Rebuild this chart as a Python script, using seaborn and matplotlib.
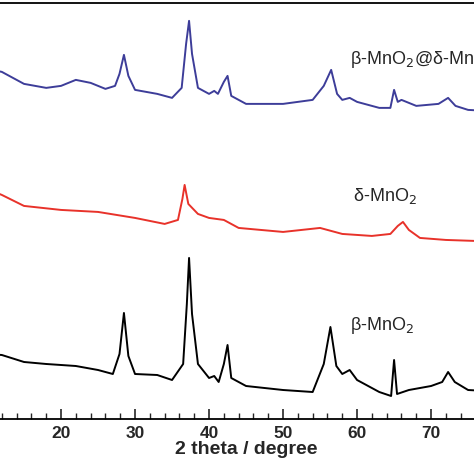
import matplotlib
matplotlib.use("Agg")
import matplotlib.pyplot as plt
import seaborn as sns
import pandas as pd
from matplotlib.ticker import MultipleLocator

sns.set_theme(style="white")
plt.rcParams['font.family'] = ['Liberation Sans', 'DejaVu Sans']

# 2theta (degree) and intensity (a.u., offset stacked)
beta_x = [10, 12, 15, 18, 22, 25, 27, 27.9, 28.5, 29.1, 30, 33, 35, 36.5, 37.0, 37.3, 37.7, 38.5, 40, 40.7, 41.3, 42.0, 42.5, 43.0, 45, 50, 54, 55.5, 56.4, 57.2, 58, 59, 60, 63, 64.6, 65.0, 65.4, 67, 70, 71.5, 72.3, 73.2, 75, 80]
beta_y = [120, 119, 112, 110, 108, 104, 100, 120, 161, 118, 100, 99, 94, 110, 170, 216, 160, 110, 96, 98, 92, 110, 129, 96, 88, 84, 82, 110, 147, 108, 100, 104, 94, 82, 78, 114, 80, 84, 88, 92, 102, 92, 84, 82]
delta_x = [10, 12, 15, 20, 25, 30, 34, 35.8, 36.4, 36.7, 37.2, 38.5, 40, 42, 44, 50, 55, 58, 62, 64.5, 65.5, 66.2, 67, 68.5, 72, 80]
delta_y = [285, 279, 268, 264, 262, 256, 250, 254, 275, 289, 270, 260, 256, 254, 246, 242, 246, 240, 238, 240, 248, 252, 244, 236, 234, 232]
comp_x = [10, 12, 15, 18, 20, 22, 24, 26, 27.3, 27.9, 28.5, 29.1, 30, 33, 35, 36.3, 36.9, 37.3, 37.7, 38.5, 40, 40.7, 41.2, 42.0, 42.5, 43.0, 45, 50, 54, 55.5, 56.5, 57.3, 58, 59, 60, 63, 64.5, 65.0, 65.5, 66, 68, 71, 72.3, 73.3, 75, 80]
comp_y = [405, 402, 390, 386, 388, 394, 391, 385, 388, 400, 419, 398, 384, 380, 376, 386, 430, 453, 420, 386, 380, 383, 380, 392, 398, 378, 370, 370, 374, 388, 404, 380, 374, 376, 372, 366, 366, 384, 372, 374, 368, 370, 376, 368, 364, 362]

fig = plt.figure(figsize=(4.74, 4.74), dpi=100)
ax = fig.add_axes([-0.0274, 0.116, 1.093, 0.878])
kw = dict(sort=False, estimator=None, linewidth=1.4, ax=ax)
sns.lineplot(data=pd.DataFrame({"x": beta_x, "y": beta_y}), x="x", y="y", color="black", **kw)
sns.lineplot(data=pd.DataFrame({"x": delta_x, "y": delta_y}), x="x", y="y", color="#e8322a", **kw)
sns.lineplot(data=pd.DataFrame({"x": comp_x, "y": comp_y}), x="x", y="y", color="#3d3d99", **kw)

ax.set_xlim(10, 80)
ax.set_ylim(55, 471)
ax.set_yticks([])
ax.xaxis.set_major_locator(MultipleLocator(10))
ax.xaxis.set_minor_locator(MultipleLocator(2))
ax.tick_params(axis='x', which='major', direction='in', length=7, width=1.2, bottom=True, labelsize=12.5, pad=5)
ax.tick_params(axis='x', which='minor', direction='in', length=4, width=1.0, bottom=True)
for lab in ax.get_xticklabels():
    lab.set_fontweight('bold')
ax.set_xlabel("2 theta / degree", fontsize=14, fontweight='bold', labelpad=0)
ax.set_ylabel("")
for s in ax.spines.values():
    s.set_color("black")
    s.set_linewidth(1.3)

ax.text(59.1, 414, r"β-MnO$_2$@δ-MnO$_2$", fontsize=13, va='center')
ax.text(59.5, 278, r"δ-MnO$_2$", fontsize=13, va='center')
ax.text(59.1, 148, r"β-MnO$_2$", fontsize=13, va='center')

fig.savefig("out.png", dpi=100)
